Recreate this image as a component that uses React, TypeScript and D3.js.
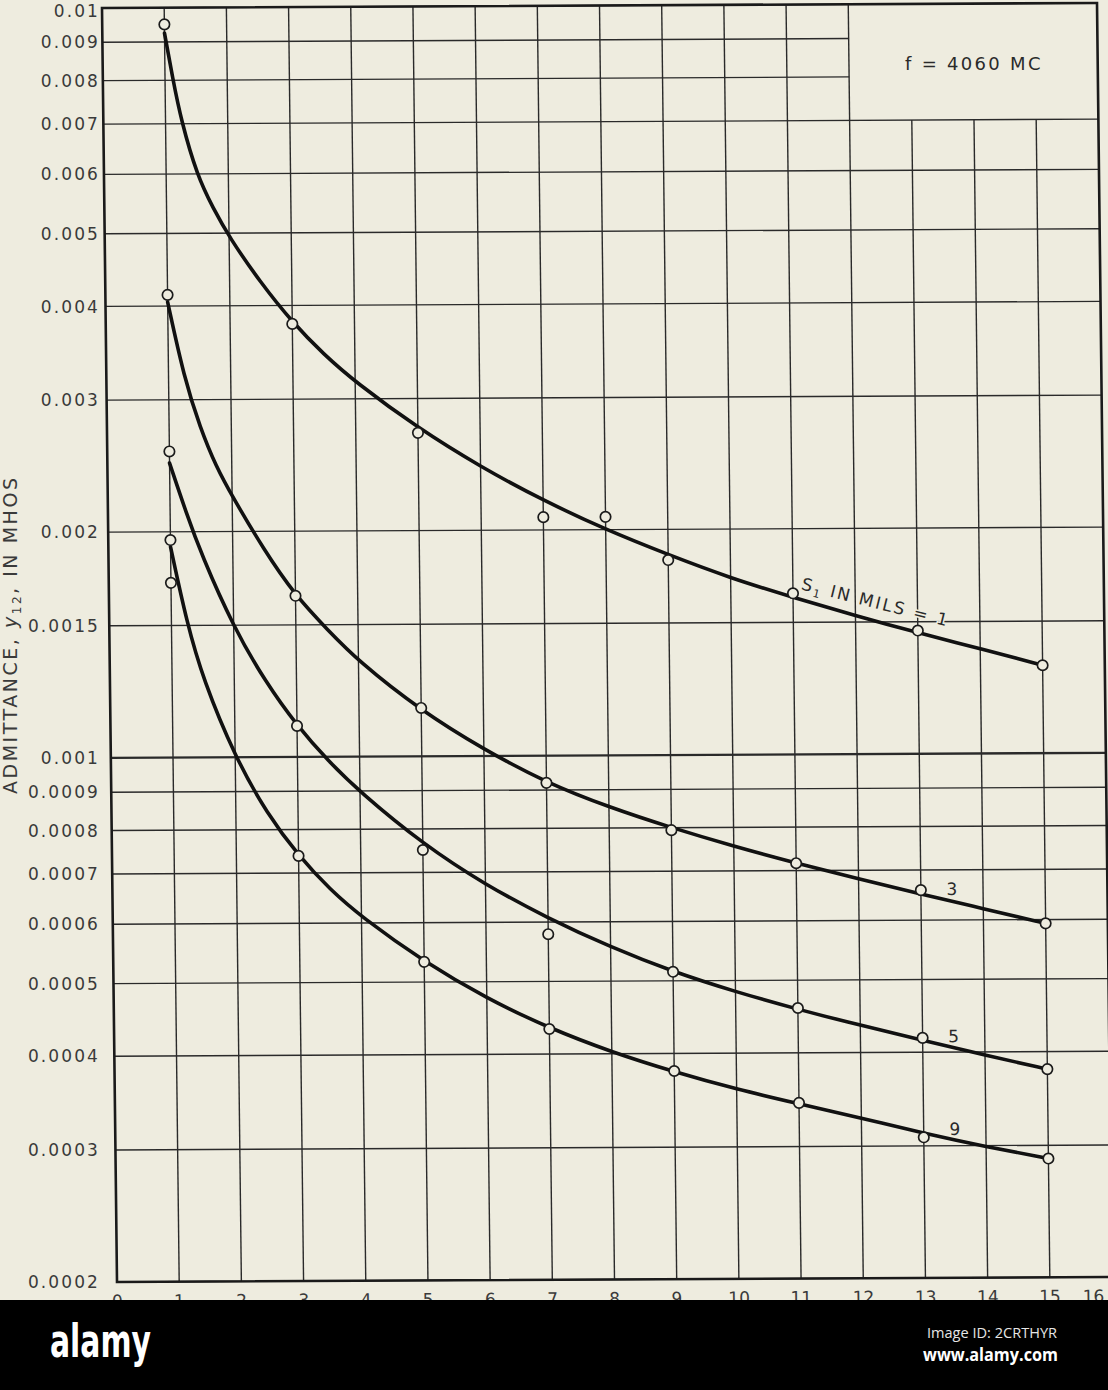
import React from "react";
import * as d3 from "d3";

// ---------- data ----------
const xTickLabels = ["0", "1", "2", "3", "4", "5", "6", "7", "8", "9", "10", "11", "12", "13", "14", "15", "16"];
const yTickValues = [0.01, 0.009, 0.008, 0.007, 0.006, 0.005, 0.004, 0.003, 0.002, 0.0015, 0.001, 0.0009, 0.0008, 0.0007, 0.0006, 0.0005, 0.0004, 0.0003, 0.0002];
const yTickLabels = ["0.01", "0.009", "0.008", "0.007", "0.006", "0.005", "0.004", "0.003", "0.002", "0.0015", "0.001", "0.0009", "0.0008", "0.0007", "0.0006", "0.0005", "0.0004", "0.0003", "0.0002"];

// measured points (circles)
const pts1X = [1, 3, 5, 7, 8, 9, 11, 13, 15];
const pts1Y = [0.0095, 0.00378, 0.0027, 0.00208, 0.00208, 0.00182, 0.00164, 0.00146, 0.00131];
const pts3X = [1, 3, 5, 7, 9, 11, 13, 15];
const pts3Y = [0.00414, 0.00164, 0.00116, 0.00092, 0.000794, 0.000716, 0.000658, 0.000593];
const pts5X = [1, 3, 5, 7, 9, 11, 13, 15];
const pts5Y = [0.00256, 0.0011, 0.00075, 0.000578, 0.000514, 0.000459, 0.000418, 0.000379];
const pts9X = [1, 1, 3, 5, 7, 9, 11, 13, 15];
const pts9Y = [0.00195, 0.00171, 0.000738, 0.000532, 0.000432, 0.000379, 0.000343, 0.000308, 0.000288];

// faired curves
const fit1X = [1, 1.125, 1.25, 1.5, 1.75, 2, 2.5, 3, 3.5, 4, 5, 6, 7, 8, 9, 10, 11, 12, 13, 14, 15];
const fit1Y = [0.00925, 0.00804, 0.00708, 0.00596, 0.0054, 0.00494, 0.00429, 0.0038, 0.00344, 0.00316, 0.00274, 0.00243, 0.00219, 0.002, 0.00185, 0.00172, 0.00162, 0.00153, 0.00145, 0.00138, 0.00131];
const fit3X = [1, 1.25, 1.5, 1.75, 2, 2.5, 3, 3.5, 4, 5, 6, 7, 8, 9, 10, 11, 12, 13, 14, 15];
const fit3Y = [0.00405, 0.00321, 0.00275, 0.00244, 0.00223, 0.00189, 0.00164, 0.00148, 0.00134, 0.00115, 0.00102, 0.00092, 0.000853, 0.0008, 0.000755, 0.000716, 0.000682, 0.00065, 0.000621, 0.000593];
const fit5X = [1, 1.25, 1.5, 2, 2.5, 3, 3.5, 4, 5, 6, 7, 8, 9, 10, 11, 12, 13, 14, 15];
const fit5Y = [0.00247, 0.00213, 0.00186, 0.00149, 0.00126, 0.0011, 0.000986, 0.000897, 0.000764, 0.000673, 0.000607, 0.000555, 0.000514, 0.000483, 0.000457, 0.000435, 0.000415, 0.000396, 0.000379];
const fit9X = [1, 1.25, 1.5, 2, 2.5, 3, 3.5, 4, 5, 6, 7, 8, 9, 10, 11, 12, 13, 14, 15];
const fit9Y = [0.00191, 0.00151, 0.00127, 0.001, 0.000841, 0.000738, 0.000665, 0.000611, 0.000532, 0.000475, 0.000433, 0.000402, 0.000378, 0.000358, 0.000342, 0.000327, 0.000312, 0.000299, 0.000288];

const curveLabels = ["3", "5", "9"];
const curveLabelX = [13.5, 13.5, 13.5];
const curveLabelY = [0.00066, 0.00042, 0.000316];

const zip = (xs: number[], ys: number[]) => xs.map((v, i) => [v, ys[i]] as [number, number]);

const BG = "#eeecdf";
const INK = "#2a2a2a";
const FONT = "'DejaVu Sans', sans-serif";

export default function App() {
  const W = 995;
  const H = 1274;
  const x = d3.scaleLinear().domain([0, 16]).range([0, W]);
  const y = d3.scaleLog().domain([0.0002, 0.01]).range([H, 0]);
  const line = d3
    .line<[number, number]>()
    .x((d) => x(d[0]))
    .y((d) => y(d[1]))
    .curve(d3.curveBasis);

  const fits = [zip(fit1X, fit1Y), zip(fit3X, fit3Y), zip(fit5X, fit5Y), zip(fit9X, fit9Y)];
  const pts = [zip(pts1X, pts1Y), zip(pts3X, pts3Y), zip(pts5X, pts5Y), zip(pts9X, pts9Y)];

  // slight skew of the scanned sheet
  const shear = `matrix(1, ${-5 / 995}, ${15 / 1274}, 1, 102, 8)`;

  return (
    <svg
      width={1108}
      height={1390}
      style={{ position: "absolute", left: 0, top: 0, display: "block" }}
      fontFamily={FONT}
    >
      <rect x={0} y={0} width={1108} height={1390} fill={BG} />

      {/* y tick labels */}
      {yTickValues.map((v, i) => (
        <text
          key={"yl" + i}
          x={100}
          y={Math.max(8 + y(v), 11)}
          dy="0.36em"
          textAnchor="end"
          fontSize={17}
          letterSpacing={2.1}
          fill="#3a3a3a"
        >
          {yTickLabels[i]}
        </text>
      ))}

      {/* y axis title */}
      <text
        transform="translate(17,636) rotate(-90)"
        textAnchor="middle"
        fontSize={19}
        fill="#3a3a3a"
        textLength={316}
        lengthAdjust="spacing"
      >
        ADMITTANCE,{" "}
        <tspan fontStyle="italic">y</tspan>
        <tspan fontSize={12} dy={4}>12</tspan>
        <tspan dy={-4}>, IN MHOS</tspan>
      </text>

      <g transform={shear}>
        {/* vertical grid */}
        {xTickLabels.slice(1, 16).map((_, k) => {
          const i = k + 1;
          const top = i >= 13 ? y(0.007) : 0;
          return <line key={"vx" + i} x1={x(i)} x2={x(i)} y1={top} y2={H} stroke={INK} strokeWidth={1.4} />;
        })}
        {/* horizontal grid */}
        {yTickValues.map((v, i) => {
          const right = v === 0.009 || v === 0.008 ? x(12) : W;
          return (
            <line
              key={"hy" + i}
              x1={0}
              x2={right}
              y1={y(v)}
              y2={y(v)}
              stroke={INK}
              strokeWidth={v === 0.001 ? 2.4 : 1.4}
            />
          );
        })}
        {/* frame */}
        <rect x={0} y={0} width={W} height={H} fill="none" stroke="#1a1a1a" strokeWidth={2.6} />

        {/* x tick labels */}
        {xTickLabels.map((t, i) => (
          <text
            key={"xl" + i}
            x={i === 16 ? x(i) - 8 : x(i)}
            y={H + 25}
            textAnchor={i === 16 ? "end" : "middle"}
            fontSize={17}
            fill="#3a3a3a"
          >
            {t}
          </text>
        ))}

        {/* curves */}
        {fits.map((f, i) => (
          <path key={"c" + i} d={line(f) || ""} fill="none" stroke="#111" strokeWidth={3.6} strokeLinecap="round" />
        ))}

        {/* points */}
        {pts.map((s, i) =>
          s.map((p, j) => (
            <circle key={"p" + i + "-" + j} cx={x(p[0])} cy={y(p[1])} r={5.2} fill={BG} stroke="#1a1a1a" strokeWidth={1.7} />
          ))
        )}

        {/* curve labels */}
        {curveLabels.map((t, i) => (
          <text
            key={"cl" + i}
            x={x(curveLabelX[i])}
            y={y(curveLabelY[i])}
            dy="0.36em"
            textAnchor="middle"
            fontSize={17}
            fill="#2a2a2a"
          >
            {t}
          </text>
        ))}
        <text
          transform={`translate(${x(11.12)},${y(0.00166)}) rotate(14.5)`}
          fontSize={17}
          fill="#2a2a2a"
          textLength={150}
          lengthAdjust="spacing"
          stroke={BG}
          strokeWidth={3}
          paintOrder="stroke"
        >
          S<tspan fontSize={11} dy={4}>1</tspan>
          <tspan dy={-4}> IN MILS = 1</tspan>
        </text>
      </g>

      {/* frequency note */}
      <text x={905} y={70} fontSize={18} letterSpacing={2.3} fill="#2a2a2a">
        f = 4060 MC
      </text>

      {/* stock-photo band */}
      <rect x={0} y={1300} width={1108} height={90} fill="#000" />
      <text
        x={50}
        y={1357}
        fontFamily="'Liberation Sans Narrow', 'DejaVu Sans Condensed', sans-serif"
        fontWeight="bold"
        fontSize={46}
        fill="#fff"
        textLength={101}
        lengthAdjust="spacingAndGlyphs"
      >
        alamy
      </text>
      <text x={927} y={1338} fontFamily="'Open Sans', sans-serif" fontSize={15} fill="#e6e6e6" textLength={130} lengthAdjust="spacingAndGlyphs">
        Image ID: 2CRTHYR
      </text>
      <text x={923} y={1361} fontFamily="'Open Sans', sans-serif" fontWeight="bold" fontSize={17} fill="#fff" textLength={135} lengthAdjust="spacingAndGlyphs">
        www.alamy.com
      </text>
    </svg>
  );
}
